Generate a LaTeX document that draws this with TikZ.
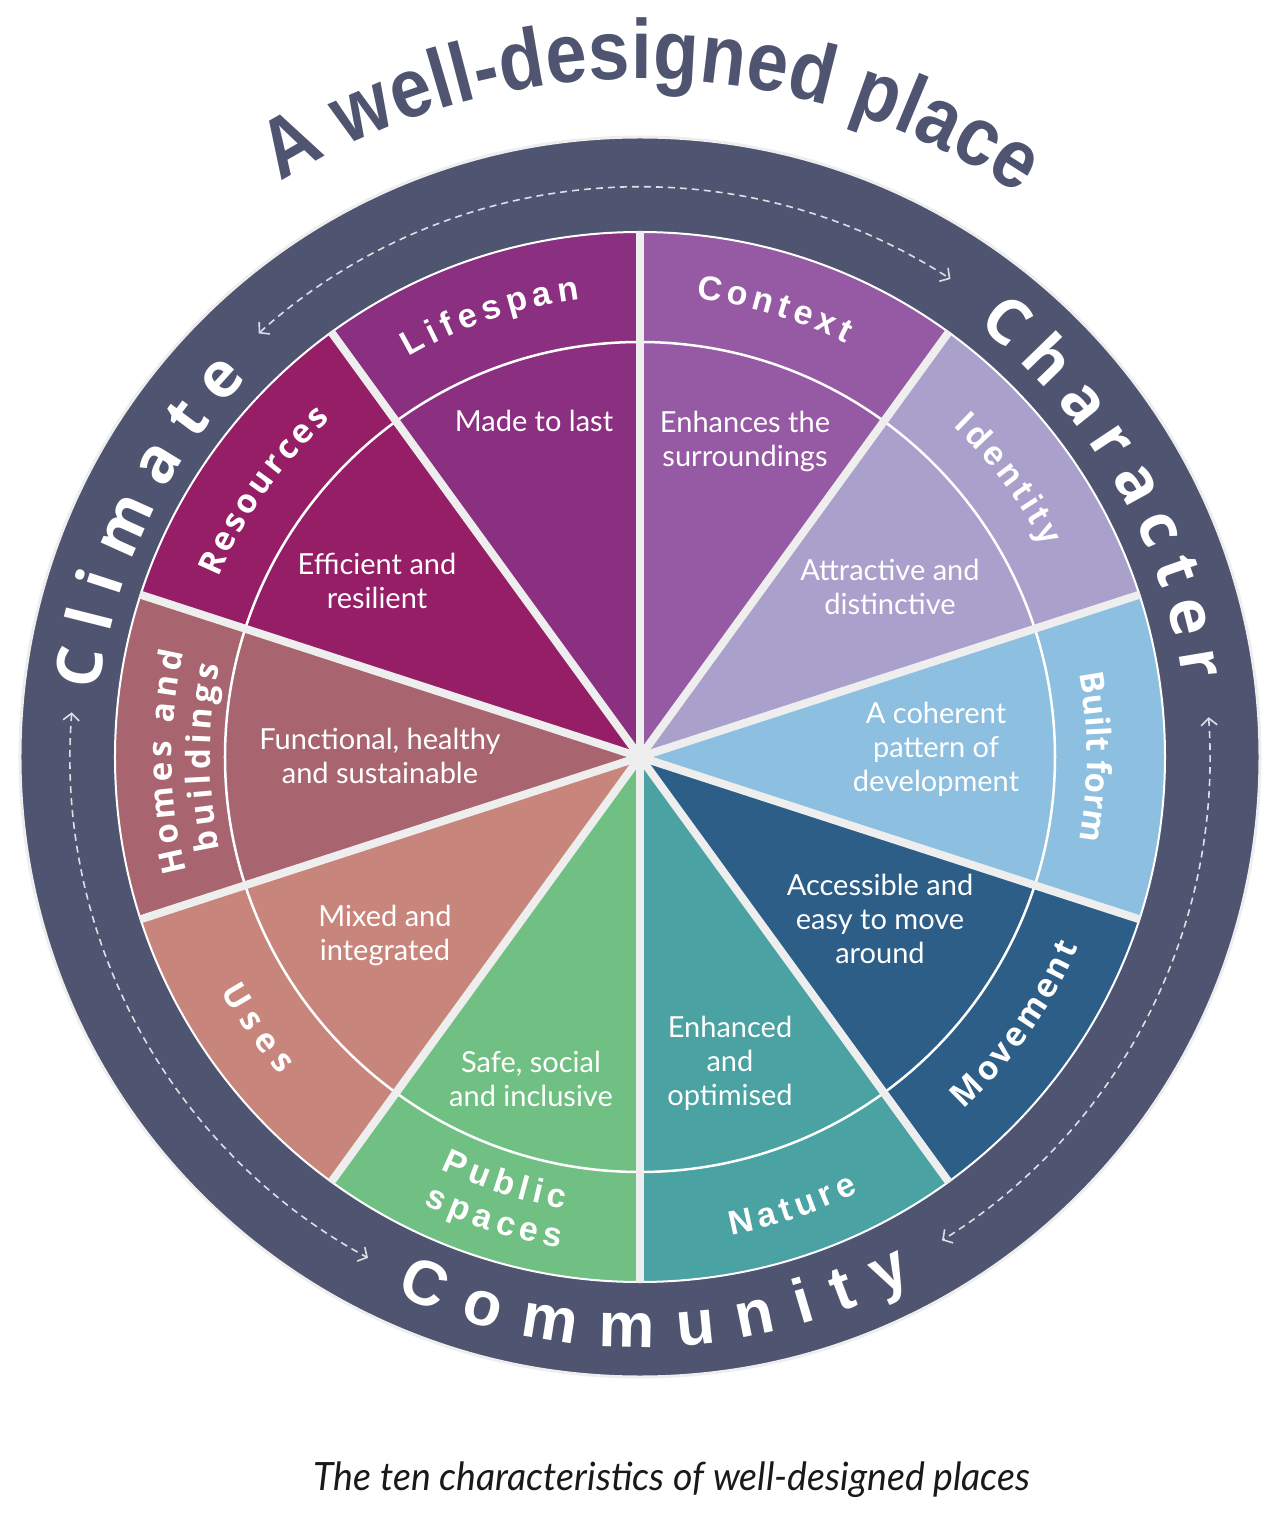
\documentclass[tikz,border=0pt]{standalone}
\usepackage{fontspec}
\setmainfont{Lato}
\newfontfamily\arialfont{Liberation Sans}
\newfontfamily\opensansfont{Open Sans}
\newfontfamily\titlefont[FakeStretch=0.88]{Liberation Sans}
\newfontfamily\captionfont[FakeStretch=0.96]{Lato}
\usetikzlibrary{decorations.text,arrows.meta}

\definecolor{ring}{HTML}{4F5470}
\definecolor{lifespan}{HTML}{8B2F80}
\definecolor{context}{HTML}{9659A3}
\definecolor{identity}{HTML}{AAA0CC}
\definecolor{builtform}{HTML}{8DC0E0}
\definecolor{movement}{HTML}{2C5E87}
\definecolor{nature}{HTML}{4AA2A2}
\definecolor{public}{HTML}{71C083}
\definecolor{uses}{HTML}{C8857B}
\definecolor{homes}{HTML}{A8656F}
\definecolor{resources}{HTML}{961E66}
\definecolor{gapgray}{HTML}{EEEEEE}
\definecolor{dashgray}{HTML}{DDDFE6}

\newcommand{\bandA}{\arialfont\bfseries\fontsize{34}{34}\selectfont\color{white}}
\newcommand{\bandB}{\opensansfont\bfseries\fontsize{33}{33}\selectfont\color{white}}
\newcommand{\ringA}{\opensansfont\bfseries\fontsize{63}{63}\selectfont\color{white}}
\newcommand{\ringB}{\arialfont\bfseries\fontsize{63}{63}\selectfont\color{white}}
\newcommand{\curvetext}[6][fit to path]{%
	\path[decorate, decoration={text along path, text align={#1}, text={|#2|#6}}]
		(#3:#5) arc[start angle=#3, end angle=#4, radius=#5];}

\tikzset{
	gapline/.style={gapgray, line width=8pt},
	dasharrow/.style={dashgray, line width=1.6pt, dash pattern=on 7pt off 5pt,
		{Straight Barb[length=7pt,width=16pt]}-{Straight Barb[length=7pt,width=16pt]}},
	inner/.style={text=white, align=center, inner sep=0pt, font=\fontsize{29}{34}\selectfont},
}

\begin{document}
\begin{tikzpicture}
	\useasboundingbox (-640pt,-779pt) rectangle (642pt,757pt);
	% title
	\curvetext{\titlefont\bfseries\fontsize{84}{84}\selectfont\color{ring}}{122}{56}{678pt}{A well-designed place}
	% outer ring
	\fill[ring] (0,0) circle (619pt);
	\draw[gapgray, line width=3pt] (0,0) circle (620pt);
	\draw[dasharrow] (132:570pt) arc[start angle=132, end angle=57, radius=570pt];
	\draw[dasharrow] (175.5:570pt) arc[start angle=175.5, end angle=241.5, radius=570pt];
	\draw[dasharrow] (4:570pt) arc[start angle=4, end angle=-58, radius=570pt];
	\curvetext{\ringA}{173}{136}{545pt}{Climate}
	\curvetext{\ringA}{52}{8}{548pt}{Character}
	\curvetext{\ringB}{245.5}{297.5}{590pt}{Community}
	% wedges
	\foreach \a/\col in {90/lifespan, 126/resources, 162/homes, 198/uses, 234/public,
		270/nature, 306/movement, 342/builtform, 18/identity, 54/context}
		\fill[\col] (0,0) -- (\a:525pt) arc[start angle=\a, delta angle=36, radius=525pt] -- cycle;
	\draw[white, line width=2.5pt] (0,0) circle (415pt);
	\draw[white, line width=2pt] (0,0) circle (525pt);
	\foreach \a in {18,54,...,342}
		\draw[gapline] (0,0) -- (\a:526pt);
	\fill[gapgray] (0,0) circle (12pt);
	% labels
	\curvetext{\bandA}{120}{97.5}{462pt}{Lifespan}
	\curvetext{\bandA}{83}{63.5}{462pt}{Context}
	\curvetext{\bandA}{46.5}{27.5}{455pt}{Identity}
	\curvetext[center]{\bandB}{14}{-14}{447pt}{Built form}
	\curvetext{\bandB}{-47.4}{-23.4}{478pt}{Movement}
	\curvetext{\bandA}{-79.2}{-63.4}{487pt}{Nature}
	\curvetext{\bandA}{-115.8}{-99.5}{458pt}{Public}
	\curvetext{\bandA}{-115.8}{-99.2}{497pt}{spaces}
	\curvetext{\bandB}{-150.8}{-138.5}{480pt}{Uses}
	\curvetext{\bandB}{194.2}{167.1}{468pt}{Homes and}
	\curvetext{\bandB}{192.4}{167.7}{430pt}{buildings}
	\curvetext{\bandB}{157}{132.5}{458pt}{Resources}
	% inner texts
	\node[inner] (made) at (-106pt,336pt) {Made to last};
	\node[inner] (enhances) at (105pt,316pt) {Enhances the\\surroundings};
	\node[inner] (attractive) at (250pt,170pt) {Attractive and\\distinctive};
	\node[inner] (coherent) at (296pt,8pt) {A coherent\\pattern of\\development};
	\node[inner] (accessible) at (240pt,-162pt) {Accessible and\\easy to move\\around};
	\node[inner] (optimised) at (90pt,-306pt) {Enhanced\\and\\optimised};
	\node[inner] (safe) at (-109pt,-322pt) {Safe, social\\and inclusive};
	\node[inner] (mixed) at (-255pt,-178pt) {Mixed and\\integrated};
	\node[inner] (functional) at (-260pt,1pt) {Functional, healthy\\and sustainable};
	\node[inner] (efficient) at (-263pt,176pt) {Efficient and\\resilient};
	%\node[inner] at (0,0) {};
	\node[anchor=base, font=\captionfont\itshape\fontsize{39}{39}\selectfont, text=black!90] (caption) at (32pt,-733pt) {The ten characteristics of well-designed places};
\end{tikzpicture}
\end{document}
